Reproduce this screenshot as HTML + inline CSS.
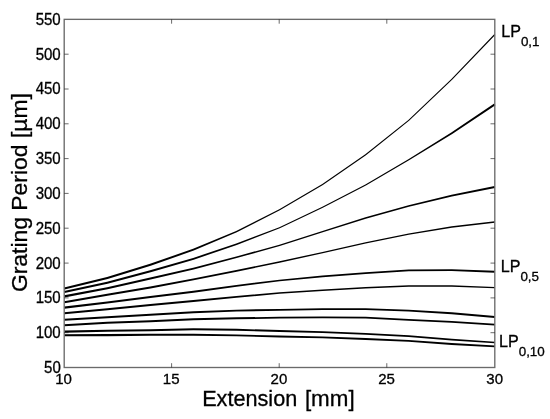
<!DOCTYPE html>
<html><head><meta charset="utf-8"><title>Grating Period vs Extension</title>
<style>
html,body{margin:0;padding:0;background:#fff;}
svg{display:block;font-family:"Liberation Sans",sans-serif;}
</style></head>
<body>
<svg width="550" height="419" viewBox="0 0 550 419">
<rect width="550" height="419" fill="#fff"/>
<g fill="#000" stroke="none">
<path d="M64.55,289.42 L107.62,278.89 L150.71,265.66 L193.78,250.56 L236.82,232.29 L279.84,210.23 L322.91,185.09 L365.98,155.25 L409.06,120.71 L452.14,79.79 L495.20,34.88 L494.40,34.12 L451.36,79.01 L408.34,119.89 L365.32,154.35 L322.29,184.11 L279.26,209.17 L236.18,230.91 L193.12,248.84 L150.09,263.74 L107.08,276.91 L64.05,287.38Z"/>
<path d="M64.52,293.03 L107.59,283.80 L150.67,272.17 L193.72,259.68 L236.76,245.01 L279.79,228.25 L322.86,207.83 L365.93,185.51 L409.04,160.27 L452.20,134.00 L495.36,105.13 L494.24,103.47 L451.30,132.60 L408.36,159.13 L365.37,184.49 L322.34,206.77 L279.31,227.15 L236.24,243.59 L193.18,257.92 L150.13,270.23 L107.11,281.80 L64.08,290.97Z"/>
<path d="M64.49,297.43 L107.56,289.31 L150.62,279.58 L193.67,269.61 L236.71,258.08 L279.74,245.95 L322.81,232.26 L365.85,218.69 L408.90,206.85 L451.94,196.47 L495.00,187.98 L494.60,186.02 L451.56,194.73 L408.50,205.35 L365.45,217.31 L322.39,230.94 L279.36,244.65 L236.29,256.52 L193.23,267.79 L150.18,277.62 L107.14,287.29 L64.11,295.37Z"/>
<path d="M64.48,303.23 L107.52,295.72 L150.58,288.39 L193.63,280.32 L236.66,271.69 L279.69,262.66 L322.74,253.25 L365.79,243.44 L408.82,234.75 L451.84,227.67 L494.88,222.70 L494.72,221.30 L451.66,226.33 L408.58,233.45 L365.51,242.16 L322.46,251.95 L279.41,261.34 L236.34,270.11 L193.27,278.48 L150.22,286.41 L107.18,293.68 L64.12,301.17Z"/>
<path d="M64.42,308.64 L107.48,303.53 L150.53,298.12 L193.58,292.78 L236.62,286.71 L279.64,281.34 L322.67,277.15 L365.71,273.95 L408.73,271.29 L451.74,271.07 L494.76,272.75 L494.84,270.65 L451.76,269.13 L408.67,269.51 L365.59,272.25 L322.53,275.45 L279.46,279.66 L236.38,284.89 L193.32,290.82 L150.27,296.08 L107.22,301.47 L64.18,306.56Z"/>
<path d="M64.40,314.25 L107.45,310.24 L150.50,306.03 L193.54,302.08 L236.58,297.70 L279.61,293.82 L322.65,291.00 L365.69,288.48 L408.72,286.66 L451.74,286.64 L494.77,288.32 L494.83,286.88 L451.76,285.16 L408.68,285.14 L365.61,286.92 L322.55,289.40 L279.49,292.18 L236.42,295.90 L193.36,300.12 L150.30,303.97 L107.25,308.16 L64.20,312.15Z"/>
<path d="M64.36,320.85 L107.41,318.34 L150.46,315.73 L193.50,313.29 L236.53,311.53 L279.56,310.67 L322.61,310.08 L365.63,310.09 L408.66,311.62 L451.68,314.26 L494.71,318.00 L494.89,316.00 L451.82,312.34 L408.74,309.78 L365.67,308.31 L322.59,308.32 L279.54,308.93 L236.47,309.67 L193.40,311.31 L150.34,313.67 L107.29,316.26 L64.24,318.75Z"/>
<path d="M64.36,326.35 L107.40,323.74 L150.44,322.33 L193.48,320.30 L236.52,319.25 L279.56,318.60 L322.60,318.20 L365.62,318.60 L408.66,320.80 L451.70,322.81 L494.74,325.62 L494.86,323.78 L451.80,320.99 L408.74,319.00 L365.68,316.80 L322.60,316.40 L279.54,316.80 L236.48,317.35 L193.42,318.30 L150.36,320.27 L107.30,321.66 L64.24,324.25Z"/>
<path d="M64.32,332.65 L107.37,331.84 L150.42,331.33 L193.46,330.30 L236.48,330.75 L279.52,331.90 L322.57,333.09 L365.61,334.78 L408.64,336.96 L451.69,340.53 L494.75,343.30 L494.85,341.70 L451.81,338.87 L408.76,335.24 L365.69,333.02 L322.63,331.31 L279.58,330.10 L236.52,328.85 L193.44,328.30 L150.38,329.27 L107.33,329.76 L64.28,330.55Z"/>
<path d="M64.30,336.35 L107.36,336.14 L150.40,335.73 L193.44,335.80 L236.48,336.36 L279.53,337.42 L322.57,338.21 L365.61,339.90 L408.65,341.80 L451.69,344.90 L494.75,347.30 L494.85,345.50 L451.81,343.10 L408.75,340.00 L365.69,338.10 L322.63,336.39 L279.57,335.58 L236.52,334.44 L193.46,333.80 L150.40,333.67 L107.34,334.06 L64.30,334.25Z"/>
</g>
<rect x="64.20" y="19.35" width="430.60" height="348.15" fill="none" stroke="#6a6a6a" stroke-width="1.35"/>
<g fill="none" stroke="#1a1a1a" stroke-width="0.65">
<path d="M64.3,332.7h4.3M494.8,332.7h-4.3"/>
<path d="M64.3,297.9h4.3M494.8,297.9h-4.3"/>
<path d="M64.3,263.1h4.3M494.8,263.1h-4.3"/>
<path d="M64.3,228.2h4.3M494.8,228.2h-4.3"/>
<path d="M64.3,193.4h4.3M494.8,193.4h-4.3"/>
<path d="M64.3,158.6h4.3M494.8,158.6h-4.3"/>
<path d="M64.3,123.8h4.3M494.8,123.8h-4.3"/>
<path d="M64.3,89.0h4.3M494.8,89.0h-4.3"/>
<path d="M64.3,54.2h4.3M494.8,54.2h-4.3"/>
<path d="M171.6,367.5v-4.3M171.6,19.4v4.3"/>
<path d="M279.2,367.5v-4.3M279.2,19.4v4.3"/>
<path d="M386.8,367.5v-4.3M386.8,19.4v4.3"/>
</g>
<g font-size="15.05px" fill="#000" stroke="#000" stroke-width="0.3">
<text transform="translate(60.75,372.9) scale(1,1.06)" text-anchor="end">50</text><text transform="translate(60.75,338.1) scale(1,1.06)" text-anchor="end">100</text><text transform="translate(60.75,303.3) scale(1,1.06)" text-anchor="end">150</text><text transform="translate(60.75,268.5) scale(1,1.06)" text-anchor="end">200</text><text transform="translate(60.75,233.6) scale(1,1.06)" text-anchor="end">250</text><text transform="translate(60.75,198.8) scale(1,1.06)" text-anchor="end">300</text><text transform="translate(60.75,164.0) scale(1,1.06)" text-anchor="end">350</text><text transform="translate(60.75,129.2) scale(1,1.06)" text-anchor="end">400</text><text transform="translate(60.75,94.4) scale(1,1.06)" text-anchor="end">450</text><text transform="translate(60.75,59.6) scale(1,1.06)" text-anchor="end">500</text><text transform="translate(60.75,24.8) scale(1,1.06)" text-anchor="end">550</text>
<text transform="translate(63.6,383.8) scale(1,1.03)" text-anchor="middle">10</text><text transform="translate(171.2,383.8) scale(1,1.03)" text-anchor="middle">15</text><text transform="translate(278.9,383.8) scale(1,1.03)" text-anchor="middle">20</text><text transform="translate(386.5,383.8) scale(1,1.03)" text-anchor="middle">25</text><text transform="translate(494.7,383.8) scale(1,1.03)" text-anchor="middle">30</text>
</g>
<text y="406" stroke="#000" stroke-width="0.3"><tspan x="202.2" font-size="21.65px">Extension </tspan><tspan x="304.9" font-size="22.4px">[mm]</tspan></text>
<text transform="translate(27.2,192.6) rotate(-90)" font-size="22.9px" text-anchor="middle" stroke="#000" stroke-width="0.3">Grating Period [µm]</text>
<g font-size="16.1px" stroke="#000" stroke-width="0.3">
<text x="501.2" y="37">LP<tspan font-size="13.4px" dy="8.5">0,1</tspan></text>
<text x="500.7" y="272.4">LP<tspan font-size="13.4px" dy="8.2">0,5</tspan></text>
<text x="499" y="347.4">LP<tspan font-size="13.4px" dy="8.2">0,10</tspan></text>
</g>
</svg>
</body></html>
